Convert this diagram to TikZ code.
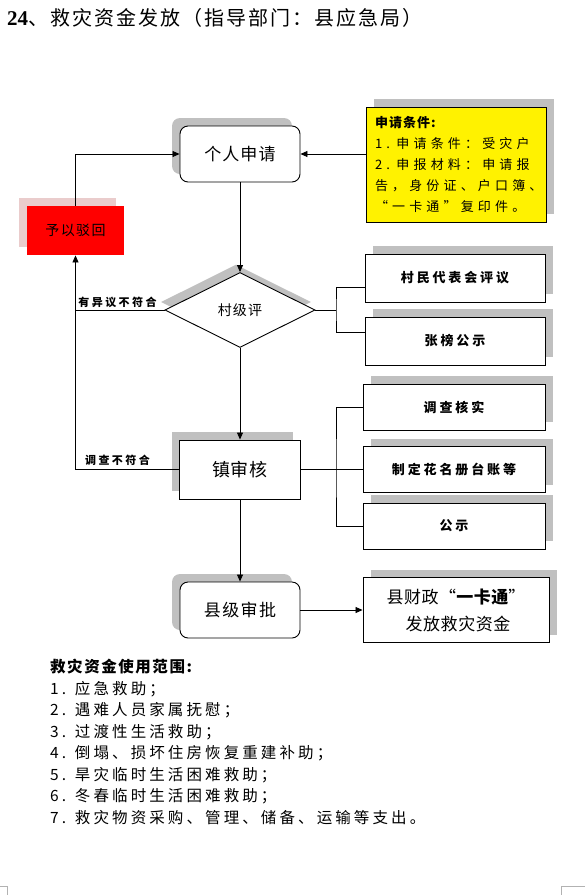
\documentclass[tikz,border=0pt]{standalone}
\usepackage{fontspec}
\setmainfont{Liberation Serif}
\newfontfamily\cjk{Noto Sans CJK SC}
\usepackage{tikz}
\usetikzlibrary{positioning,arrows.meta,shapes,calc,shadows}
\definecolor{shadowgray}{RGB}{192,192,192}
\definecolor{shadowpink}{RGB}{234,204,204}
\newcommand{\cjkfont}[3]{\cjk\mdseries\fontsize{#1}{#2}\selectfont\addfontfeature{LetterSpace=#3}}
\newcommand{\cjkbold}[3]{\cjk\bfseries\fontsize{#1}{#2}\selectfont\addfontfeature{LetterSpace=#3}}

\begin{document}
\begin{tikzpicture}[x=1pt, y=-1pt,
    stepbox/.style={rectangle, draw=black, line width=0.9pt, fill=white, inner sep=0pt},
    roundbox/.style={stepbox, rounded corners=8pt},
    leftshadow/.style={drop shadow={shadow xshift=-8pt, shadow yshift=8pt, fill=shadowgray, opacity=1}},
    rightshadow/.style={drop shadow={shadow xshift=8pt, shadow yshift=8pt, fill=shadowgray, opacity=1}},
    sidebox/.style={stepbox, rightshadow, minimum width=180pt, minimum height=48pt, font=\cjkbold{13}{13}{22}},
    arrow/.style={-{Triangle[length=7pt, width=6pt]}, line width=0.8pt},
    link/.style={line width=0.8pt},
    note/.style={font=\cjkbold{11}{11}{22}, inner sep=0pt}
]
\useasboundingbox (0,0) rectangle (587,895);

% Title
\node[anchor=west, inner sep=0pt] (title) at (7,18) {\fontsize{21}{21}\selectfont\textbf{24}\cjkfont{20}{20}{10}、救灾资金发放（指导部门：县应急局）};

% Individual application
\node[roundbox, leftshadow, minimum width=120pt, minimum height=56pt, font=\cjkfont{17}{17}{6}] (apply) at (240,154) {个人申请};

% Conditions
\node[stepbox, rightshadow, fill=yellow, minimum width=180pt, minimum height=115pt, text width=162pt, align=left, font=\cjkfont{13}{21}{32}] (cond) at (456,164.5)
  {{\cjkbold{13}{21}{8}申请条件:}\\1. 申请条件：受灾户\\2. 申报材料：申请报\\告，身份证、户口簿、\\“一卡通”复印件。};
\draw[arrow] (cond.west |- apply.east) -- (apply.east);

% Rejection
\node[stepbox, draw=none, fill=red, drop shadow={shadow xshift=-8pt, shadow yshift=8pt, fill=shadowpink, opacity=1}, minimum width=97pt, minimum height=49pt, font=\cjkfont{14}{14}{10}] (reject) at (75.5,230.5) {予以驳回};
\draw[arrow] (reject.north) |- (apply.west);

% Village review
\node[diamond, draw=black, line width=0.9pt, fill=white, inner sep=0pt, minimum width=150pt, minimum height=75pt, drop shadow={shadow xshift=-4pt, shadow yshift=8pt, fill=shadowgray, opacity=1}, font=\cjkfont{14}{14}{8}] (village) at (240,310) {村级评};
\draw[arrow] (apply) -- (village);
\node[sidebox] (rv1) at (455,278) {村民代表会评议};
\node[sidebox] (rv2) at (455,341) {张榜公示};
\draw[link] (village.east) -- (336,310) coordinate (vfork);
\draw[link] ($(rv1.west)+(0,9)$) -| (vfork) |- ($(rv2.west)+(0,-9)$);
\draw[link] (village.west) -- (village.west -| reject.south);
\node[note] (objection) at (117.5,302) {有异议不符合};

% Town review
\node[stepbox, leftshadow, minimum width=121pt, minimum height=59pt, font=\cjkfont{18}{18}{2}] (town) at (240,469.5) {镇审核};
\draw[arrow] (village) -- (town);
\node[sidebox, minimum width=182pt, minimum height=46pt] (c1) at (454,407) {调查核实};
\node[sidebox, minimum width=182pt, minimum height=46pt] (c2) at (454,469.5) {制定花名册台账等};
\node[sidebox, minimum width=182pt, minimum height=46pt] (c3) at (454,526) {公示};
\draw[link] (town.east) -- (c2.west);
\coordinate (tfork) at (336,469.5);
\draw[link] (c1.west) -| (tfork) |- (c3.west);
\draw[arrow] (town.west) -| (reject.south);
\node[note] (mismatch) at (117.5,460) {调查不符合};

% County approval
\node[roundbox, leftshadow, minimum width=120pt, minimum height=56pt, font=\cjkfont{17}{17}{8}] (county) at (240,610) {县级审批};
\draw[arrow] (town) -- (county);
\node[stepbox, rightshadow, minimum width=186pt, minimum height=65pt, align=center, font=\cjkfont{17}{27}{3}] (fund) at (456,610) {县财政“{\bfseries 一卡通}”\\\hspace*{4pt}发放救灾资金};
\draw[arrow] (county) -- (fund);

% Scope of use
\node[anchor=north west, inner sep=0pt, align=left, font=\cjkfont{15.5}{21.5}{20}] (scope) at (50,659)
  {{\cjkbold{15.5}{21.5}{10}救灾资金使用范围:}\\1. 应急救助；\\2. 遇难人员家属抚慰；\\3. 过渡性生活救助；\\4. 倒塌、损坏住房恢复重建补助；\\5. 旱灾临时生活困难救助；\\6. 冬春临时生活困难救助；\\7. 救灾物资采购、管理、储备、运输等支出。};

% Page marks
\draw[gray!60, line width=0.6pt] (0,886) -- (7,886) -- (7,895);
\draw[gray!60, line width=0.6pt] (585,886) -- (561,886) -- (561,895);
\end{tikzpicture}
\end{document}
